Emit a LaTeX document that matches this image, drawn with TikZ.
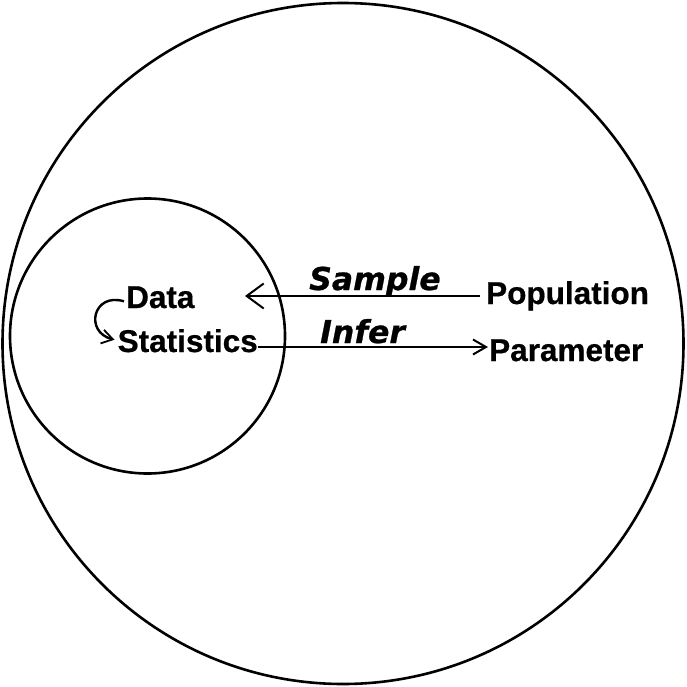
\documentclass[tikz,border=0pt]{standalone}
\usepackage{fontspec}
\newfontfamily\arfont[FakeBold=0.6]{Liberation Sans}
\newfontfamily\djfont[FakeBold=0.8]{DejaVu Sans}
\usetikzlibrary{arrows.meta}
\tikzset{
  lbl/.style={inner sep=0pt, anchor=base west, font=\arfont\bfseries\fontsize{31.5}{31.5}\selectfont},
  ilbl/.style={inner sep=0pt, anchor=base west, font=\djfont\bfseries\itshape\fontsize{31.5}{31.5}\selectfont},
  ring/.style={draw=black, line width=2.6pt},
  bigarr/.style={draw=black, line width=2.8pt, -{Straight Barb[length=17pt,width=25pt,line width=2pt]}},
  medarr/.style={draw=black, line width=2.8pt, -{Straight Barb[length=13pt,width=15pt,line width=2pt]}},
  smallarr/.style={draw=black, line width=2.4pt, -{Straight Barb[length=11pt,width=14pt,line width=1.8pt]}}
}
\begin{document}
\begin{tikzpicture}[x=1pt,y=-1pt]
\useasboundingbox[fill=white] (0,0) rectangle (686,687);
\draw[ring] (343,343.5) circle[radius=340.5];
\draw[ring] (147.5,336) circle[radius=137.5];
\node[lbl] (Data) at (126,308) {Data};
\node[lbl] (Stat) at (117.5,352) {Statistics};
\node[lbl] (Pop) at (486,304) {Population};
\node[lbl] (Par) at (489,361) {Parameter};
\node[ilbl] (Sample) at (309,290) {Sample};
\node[ilbl] (Infer) at (320,343) {Infer};
\coordinate (sEnd) at (245,296);
\coordinate (pL) at ([xshift=-6pt]Pop.west);
\draw[bigarr] (pL |- sEnd) -- (sEnd);
\coordinate (iy) at (0,347);
\coordinate (parL) at ([xshift=-1pt]Par.west);
\draw[medarr] (Stat.east |- iy) -- (parL |- iy);
\draw[smallarr] ([xshift=-2pt,yshift=-4pt]Data.west) .. controls (93,292) and (84,332) .. ([xshift=-3pt,yshift=1pt]Stat.west);
\end{tikzpicture}
\end{document}
